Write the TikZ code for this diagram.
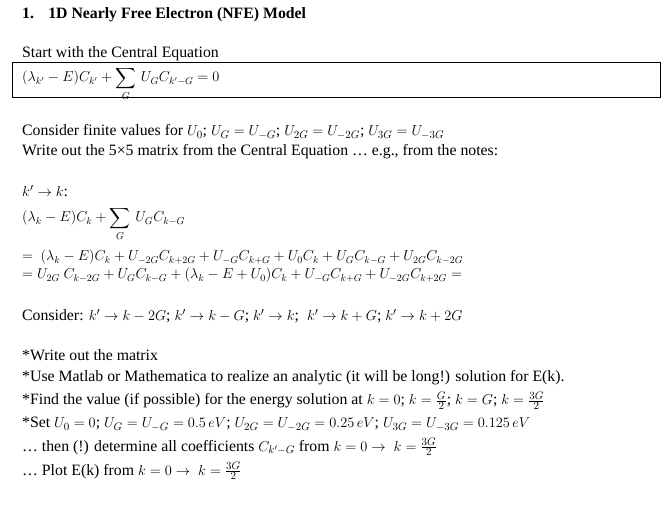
\documentclass[tikz,border=0pt]{standalone}
\usepackage{amsmath}
\usepackage{fontspec}
\setmainfont{Liberation Serif}
\begin{document}
\begin{tikzpicture}[x=1pt,y=-1pt,every node/.style={anchor=west,inner sep=0pt,font=\fontsize{15.8}{18}\selectfont},
 ln/.style={anchor=base west}, mth/.style={anchor=base west,font=\fontsize{13.8}{16}\selectfont}]
\useasboundingbox (0,0) rectangle (672,510);
\node[ln,font=\bfseries\fontsize{15.8}{18}\selectfont] (t) at (22,19) {1.\hspace{0.9em}1D Nearly Free Electron (NFE) Model};
\node[ln] (s) at (22,58) {Start with the Central Equation};
\draw[line width=0.8pt] (12,62) rectangle (660,97);
\node[mth] (e1) at (22,82) {$(\lambda_{k'}-E)C_{k'}+\displaystyle\sum_{G}\,U_GC_{k'-G}=0$};
\node[ln] (c1) at (22,136) {Consider finite values for $U_0$; $U_G=U_{-G}$; $U_{2G}=U_{-2G}$; $U_{3G}=U_{-3G}$};
\node[ln] (c2) at (22,156) {Write out the 5×5 matrix from the Central Equation … e.g., from the notes:};
\node[ln] (k1) at (22,197) {$k'\to k$:};
\node[mth] (e2) at (22,222) {$(\lambda_k-E)C_k+\displaystyle\sum_{G}\,U_GC_{k-G}$};
\node[mth] (e3) at (22,261) {$=\ (\lambda_k-E)C_k+U_{-2G}C_{k+2G}+U_{-G}C_{k+G}+U_0C_k+U_GC_{k-G}+U_{2G}C_{k-2G}$};
\node[mth] (e4) at (22,279) {$=U_{2G}\ C_{k-2G}+U_GC_{k-G}+(\lambda_k-E+U_0)C_k+U_{-G}C_{k+G}+U_{-2G}C_{k+2G}=$};
\node[ln] (c3) at (22,321) {Consider: $k'\to k-2G$; $k'\to k-G$; $k'\to k$;\ \ $k'\to k+G$; $k'\to k+2G$};
\node[ln] (w1) at (22,361) {*Write out the matrix};
\node[ln] (w2) at (22,382) {*Use Matlab or Mathematica to realize an analytic (it will be long!) solution for E(k).};
\node[ln] (w3) at (22,405) {*Find the value (if possible) for the energy solution at $k=0$; $k=\frac{G}{2}$; $k=G$; $k=\frac{3G}{2}$};
\node[ln] (w4) at (22,428) {*Set $U_0=0$; $U_G=U_{-G}=0.5\,eV$; $U_{2G}=U_{-2G}=0.25\,eV$; $U_{3G}=U_{-3G}=0.125\,eV$};
\node[ln] (w5) at (22,451) {… then (!) determine all coefficients $C_{k'-G}$ from $k=0\to\ k=\frac{3G}{2}$};
\node[ln] (w6) at (22,475) {… Plot E(k) from $k=0\to\ k=\frac{3G}{2}$};
\end{tikzpicture}
\end{document}
